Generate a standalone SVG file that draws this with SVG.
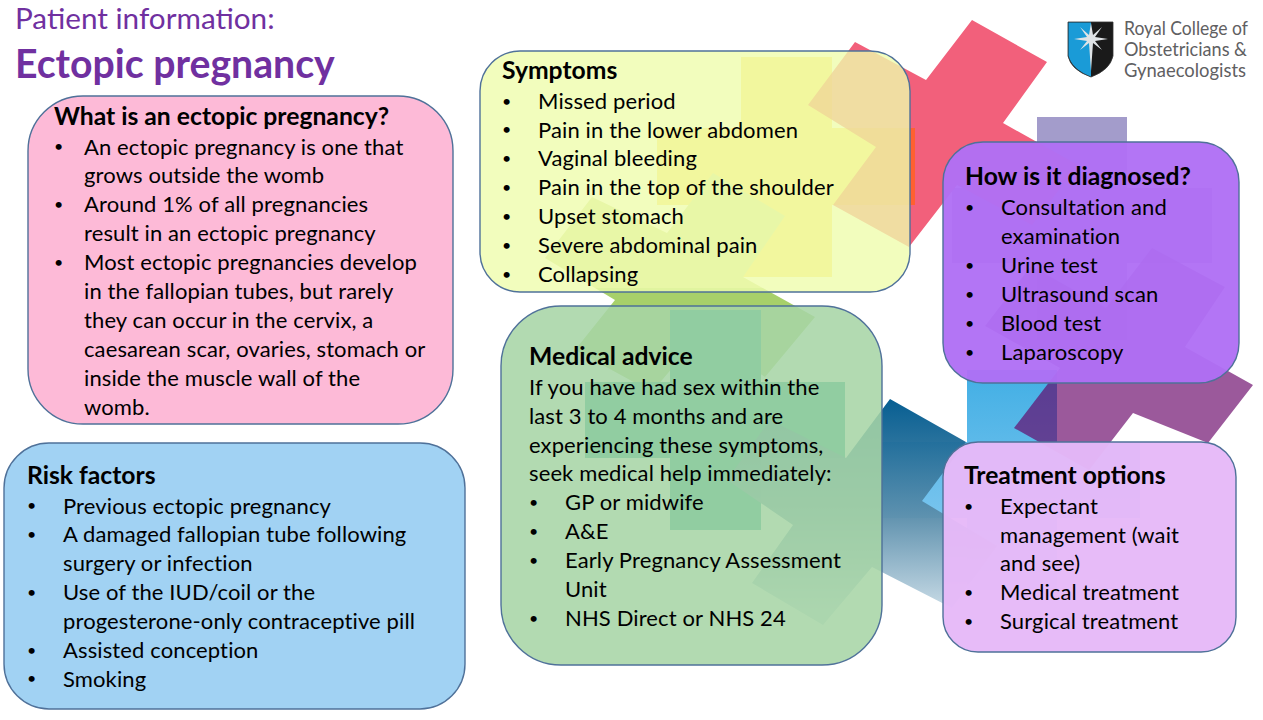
<svg xmlns="http://www.w3.org/2000/svg" width="1263" height="720" viewBox="0 0 1263 720">
<style>
text{font-family:"Lato","Carlito","Liberation Sans",sans-serif;fill:#000}
.t{font-size:22px;letter-spacing:.12px}
.b{font-size:16px}
.h{font-size:24.700px;font-weight:700}
.box{stroke:#4f7199;stroke-width:1.4}
.logo{font-size:19px;fill:#5f6062}
.title{fill:#7030a0}
</style>
<defs>
<linearGradient id="dark" gradientUnits="userSpaceOnUse" x1="0" y1="400" x2="0" y2="610"><stop offset="0" stop-color="#005a8f"/><stop offset=".557" stop-color="#5d90ad"/><stop offset="1" stop-color="#c8dbe6"/></linearGradient>
<linearGradient id="sky" gradientUnits="userSpaceOnUse" x1="0" y1="380" x2="0" y2="590"><stop offset="0" stop-color="#45b0e5"/><stop offset=".7" stop-color="#7cc6ef"/><stop offset="1" stop-color="#bfe2f6"/></linearGradient>
<linearGradient id="grn" gradientUnits="userSpaceOnUse" x1="0" y1="0" x2="0" y2="720"><stop offset=".4" stop-color="#cbdf92"/><stop offset=".4" stop-color="#a7d06a"/></linearGradient>
<clipPath id="redclip"><polygon points="972,20 1047,62 1003,123 1078,165 1032,225 957,185 909,247 833,205 876,147 808,105 855,42 926,80"/></clipPath>
</defs>
<rect width="1263" height="720" fill="#fff"/>
<g id="background">
<path fill="#a39ccb" d="M1037 117h90v71h85v75h-85v77h-90v-77h-85v-75h85z"/>
<polygon fill="#f2607b" points="972,20 1047,62 1003,123 1078,165 1032,225 957,185 909,247 833,205 876,147 808,105 855,42 926,80"/>
<path fill="#ffe066" d="M741 57h91v71h83v77h-83v72h-91v-72h-84v-77h84z"/>
<g clip-path="url(#redclip)"><path fill="#f4604a" d="M741 57h91v71h83v77h-83v72h-91v-72h-84v-77h84z"/><rect x="909" y="128" width="6" height="77" fill="#ff6030"/></g>
<polygon fill="url(#grn)" points="592,197 667,233 713,173 785,216 743,277 815,317 765,377 700,335 652,392 575,350 615,300 545,258"/>
<path fill="#009985" d="M670 310h91v72h84v76h-84v72h-91v-72h-85v-76h85z"/>
<path fill="url(#sky)" d="M967 370h90v72h83v76h-83v72h-90v-72h-87v-76h87z"/>
<polygon fill="url(#dark)" opacity=".97" points="890,399 966,442 922,501 997,546 952,608 872,567 823,625 752,583 793,525 727,480 770,420 846,458"/>
<polygon fill="#660066" opacity=".65" points="1152,248 1225,287 1185,347 1253,385 1208,443 1133,413 1089,470 1014,428 1060,368 985,326 1031,266 1106,308"/>
</g>
<g id="connectors"/>
<g id="title">
<text class="title" x="15" y="29" style="font-size:29.700px">Patient information:</text>
<text class="title" x="15" y="78" style="font-size:39.200px;font-weight:700">Ectopic pregnancy</text>
</g>
<g id="logo">
<path d="M1068 22h45v34q-3 14-22 21q-20-7-23-21z" fill="#1a1a1a" stroke="#333" stroke-width=".8"/>
<path d="M1068.500 22.500h22.500v54q-19-7-22.500-21z" fill="#1a9bd7"/>
<polygon fill="#dfe3e6" points="1091,23 1093,35 1102,27 1095,37 1108,39 1095,41 1102,50 1093,43 1091,71 1089,43 1080,50 1087,41 1074,39 1087,37 1080,27 1089,35"/>
<text class="logo" x="1124" y="35" textLength="124" lengthAdjust="spacingAndGlyphs">Royal College of</text>
<text class="logo" x="1124" y="56" textLength="123" lengthAdjust="spacingAndGlyphs">Obstetricians &amp;</text>
<text class="logo" x="1124" y="76.500" textLength="122" lengthAdjust="spacingAndGlyphs">Gynaecologists</text>
</g>
<g id="what-is">
<rect class="box" x="28" y="96" width="425" height="328" rx="55" fill="#fdbad7"/>
<text class="h" x="54" y="125">What is an ectopic pregnancy?</text>
<text class="b" x="54" y="152.300">•</text><text class="t" x="84" y="154.500">An ectopic pregnancy is one that</text>
<text class="t" x="84" y="183.400">grows outside the womb</text>
<text class="b" x="54" y="210.100">•</text><text class="t" x="84" y="212.300">Around 1% of all pregnancies</text>
<text class="t" x="84" y="241.200">result in an ectopic pregnancy</text>
<text class="b" x="54" y="267.900">•</text><text class="t" x="84" y="270.100">Most ectopic pregnancies develop</text>
<text class="t" x="84" y="299">in the fallopian tubes, but rarely</text>
<text class="t" x="84" y="327.900">they can occur in the cervix, a</text>
<text class="t" x="84" y="356.800">caesarean scar, ovaries, stomach or</text>
<text class="t" x="84" y="385.700">inside the muscle wall of the</text>
<text class="t" x="84" y="414.600">womb.</text>
</g>
<g id="risk-factors">
<rect class="box" x="4" y="443" width="461" height="266" rx="45" fill="#a1d2f3"/>
<text class="h" x="27" y="484">Risk factors</text>
<text class="b" x="27" y="511.300">•</text><text class="t" x="63" y="513.500">Previous ectopic pregnancy</text>
<text class="b" x="27" y="540.100">•</text><text class="t" x="63" y="542.300">A damaged fallopian tube following</text>
<text class="t" x="63" y="571.200">surgery or infection</text>
<text class="b" x="27" y="597.800">•</text><text class="t" x="63" y="600">Use of the IUD/coil or the</text>
<text class="t" x="63" y="628.800">progesterone-only contraceptive pill</text>
<text class="b" x="27" y="655.500">•</text><text class="t" x="63" y="657.700">Assisted conception</text>
<text class="b" x="27" y="684.300">•</text><text class="t" x="63" y="686.500">Smoking</text>
</g>
<g id="symptoms">
<rect class="box" x="480" y="51" width="430" height="241" rx="40" fill="#effdad" fill-opacity=".8"/>
<text class="h" x="502" y="79">Symptoms</text>
<text class="b" x="502" y="106.500">•</text><text class="t" x="538" y="108.700">Missed period</text>
<text class="b" x="502" y="135.300">•</text><text class="t" x="538" y="137.500">Pain in the lower abdomen</text>
<text class="b" x="502" y="164.100">•</text><text class="t" x="538" y="166.300">Vaginal bleeding</text>
<text class="b" x="502" y="192.900">•</text><text class="t" x="538" y="195.100">Pain in the top of the shoulder</text>
<text class="b" x="502" y="221.800">•</text><text class="t" x="538" y="224">Upset stomach</text>
<text class="b" x="502" y="250.600">•</text><text class="t" x="538" y="252.800">Severe abdominal pain</text>
<text class="b" x="502" y="279.500">•</text><text class="t" x="538" y="281.700">Collapsing</text>
</g>
<g id="medical-advice">
<rect class="box" x="501" y="306" width="381" height="359" rx="60" fill="#a7d4a5" fill-opacity=".87"/>
<text class="h" x="529" y="364.500">Medical advice</text>
<text class="t" x="529" y="394.500">If you have had sex within the</text>
<text class="t" x="529" y="423.500">last 3 to 4 months and are</text>
<text class="t" x="529" y="452.500">experiencing these symptoms,</text>
<text class="t" x="529" y="481">seek medical help immediately:</text>
<text class="b" x="529" y="507.800">•</text><text class="t" x="565" y="510">GP or midwife</text>
<text class="b" x="529" y="536.800">•</text><text class="t" x="565" y="539">A&amp;E</text>
<text class="b" x="529" y="565.800">•</text><text class="t" x="565" y="568">Early Pregnancy Assessment</text>
<text class="t" x="565" y="597">Unit</text>
<text class="b" x="529" y="623.800">•</text><text class="t" x="565" y="626">NHS Direct or NHS 24</text>
</g>
<g id="diagnosis">
<rect class="box" x="943" y="142" width="296" height="241" rx="40" fill="#b06ff5" fill-opacity=".96"/>
<text class="h" x="965" y="185">How is it diagnosed?</text>
<text class="b" x="965" y="212.800">•</text><text class="t" x="1001" y="215">Consultation and</text>
<text class="t" x="1001" y="244">examination</text>
<text class="b" x="965" y="270.800">•</text><text class="t" x="1001" y="273">Urine test</text>
<text class="b" x="965" y="299.800">•</text><text class="t" x="1001" y="302">Ultrasound scan</text>
<text class="b" x="965" y="328.800">•</text><text class="t" x="1001" y="331">Blood test</text>
<text class="b" x="965" y="357.800">•</text><text class="t" x="1001" y="360">Laparoscopy</text>
</g>
<g id="treatment">
<rect class="box" x="943" y="442" width="293" height="210" rx="35" fill="#e6b9f8" fill-opacity=".97"/>
<text class="h" x="964" y="483.500">Treatment options</text>
<text class="b" x="964" y="511.500">•</text><text class="t" x="1000" y="513.700">Expectant</text>
<text class="t" x="1000" y="542.500">management (wait</text>
<text class="t" x="1000" y="571.300">and see)</text>
<text class="b" x="964" y="597.800">•</text><text class="t" x="1000" y="600">Medical treatment</text>
<text class="b" x="964" y="626.600">•</text><text class="t" x="1000" y="628.800">Surgical treatment</text>
</g>
</svg>
